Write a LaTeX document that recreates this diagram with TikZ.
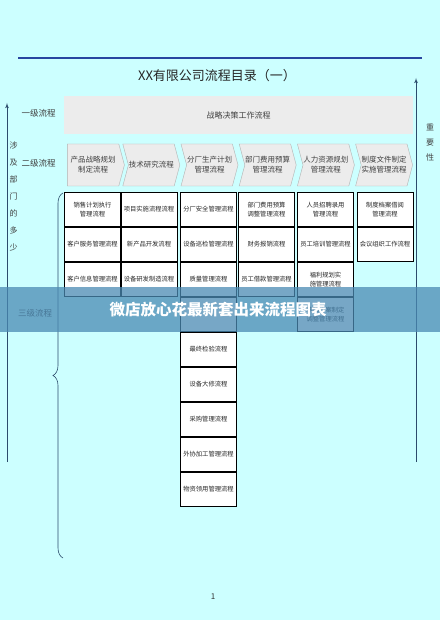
\documentclass[tikz,border=0pt]{standalone}
\usepackage{fontspec}
\setmainfont{Noto Sans CJK SC}
\usetikzlibrary{shapes.symbols,arrows,positioning,decorations.pathreplacing}

\definecolor{bgcyan}{RGB}{204,255,255}
\definecolor{axisblue}{RGB}{44,76,108}
\definecolor{rulerblue}{RGB}{40,70,160}
\definecolor{bandblue}{RGB}{74,138,180}

\begin{document}
\begin{tikzpicture}[x=1pt,y=-1pt]
\tikzstyle{cell} = [rectangle, draw=black, line width=0.7pt, fill=white,
    minimum width=56pt, minimum height=34.3pt, inner sep=1pt, align=center,
    font=\fontsize{6.3}{8.5}\selectfont, text=black!85, node distance=0pt]
\tikzstyle{chev} = [signal, signal to=east, signal from=west, signal pointer angle=150,
    draw=gray!60, fill=gray!15, minimum width=57pt, minimum height=42pt,
    inner sep=0pt, align=center, font=\fontsize{7.5}{10}\selectfont, text=black!75]
\tikzstyle{level} = [font=\fontsize{8.5}{10}\selectfont, text=black!75]
\tikzstyle{line} = [draw, -latex', color=axisblue, line width=0.8pt]

\useasboundingbox (0,0) rectangle (440,620);
\fill[bgcyan] (0,0) rectangle (440,620);

\draw[rulerblue, line width=1.2pt] (18,58) -- (422,58);
\node[font=\fontsize{13}{15}\selectfont, text=black!85] (title) at (217,76) {XX有限公司流程目录（一）};

% level one
\node [fill=gray!15, minimum width=349pt, minimum height=38pt, font=\fontsize{8}{10}\selectfont, text=black!75] (strategy) at (238.5,115) {战略决策工作流程};
\node [level] (lv1) at (38.5,113) {一级流程};

% level two
\node [level] (lv2) at (38.5,163) {二级流程};
\node [chev, signal from=nowhere] (p1) at (93.1,165) {产品战略规划\\制定流程};
\node [chev] (p2) at (151.3,165) {技术研究流程};
\node [chev] (p3) at (209.5,165) {分厂生产计划\\管理流程};
\node [chev] (p4) at (267.7,165) {部门费用预算\\管理流程};
\node [chev] (p5) at (325.9,165) {人力资源规划\\管理流程};
\node [chev] (p6) at (384.1,165) {制度文件制定\\实施管理流程};

% level three
\node [level] (lv3) at (35,313) {三级流程};

\node [cell, anchor=north] (c11) at (92.5,192) {销售计划执行\\管理流程};
\node [cell, below=of c11] (c12) {客户服务管理流程};
\node [cell, below=of c12] (c13) {客户信息管理流程};

\node [cell, anchor=north] (c21) at (149,192) {项目实施流程流程};
\node [cell, below=of c21] (c22) {新产品开发流程};
\node [cell, below=of c22] (c23) {设备研发制造流程};

\node [cell, anchor=north] (c31) at (208.5,192) {分厂安全管理流程};
\node [cell, below=of c31] (c32) {设备巡检管理流程};
\node [cell, below=of c32] (c33) {质量管理流程};
\node [cell, below=of c33] (c34) {};
\node [cell, below=of c34] (c35) {最终检验流程};
\node [cell, below=of c35] (c36) {设备大修流程};
\node [cell, below=of c36] (c37) {采购管理流程};
\node [cell, below=of c37] (c38) {外协加工管理流程};
\node [cell, below=of c38] (c39) {物资领用管理流程};

\node [cell, anchor=north] (c41) at (266.5,192) {部门费用预算\\调整管理流程};
\node [cell, below=of c41] (c42) {财务报销流程};
\node [cell, below=of c42] (c43) {员工借款管理流程};

\node [cell, anchor=north] (c51) at (325.5,192) {人员招聘录用\\管理流程};
\node [cell, below=of c51] (c52) {员工培训管理流程};
\node [cell, below=of c52] (c53) {福利规划实\\施管理流程};
\node [cell, below=of c53] (c54) {薪酬方案制定\\调整管理流程};

\node [cell, anchor=north] (c61) at (385,192) {制度档案借阅\\管理流程};
\node [cell, below=of c61] (c62) {会议组织工作流程};

\draw[axisblue, line width=0.6pt, decorate, decoration={brace, amplitude=10pt}] (63,558) -- (63,193);

% axes
\coordinate (lbot) at (7,462);
\coordinate (ltop) at (7,103);
\coordinate (rbot) at (416,462);
\coordinate (rtop) at (416,78);
\path [line] (lbot) -- (ltop);
\path [line] (rbot) -- (rtop);
\node [align=center, font=\fontsize{8}{17}\selectfont, text=black!75] (many) at (13.5,196) {涉\\及\\部\\门\\的\\多\\少};
\node [align=center, font=\fontsize{8}{15}\selectfont, text=black!75] (weight) at (430,142) {重\\要\\性};

\node [font=\fontsize{8}{10}\selectfont, text=black!80] (page) at (213,597) {1};

% overlay band
\fill[bandblue, opacity=0.75] (0,287) rectangle (440,332);
\node [font=\fontsize{15.5}{18}\bfseries, text=white] (banner) at (218,310) {微店放心花最新套出来流程图表};
\end{tikzpicture}
\end{document}
